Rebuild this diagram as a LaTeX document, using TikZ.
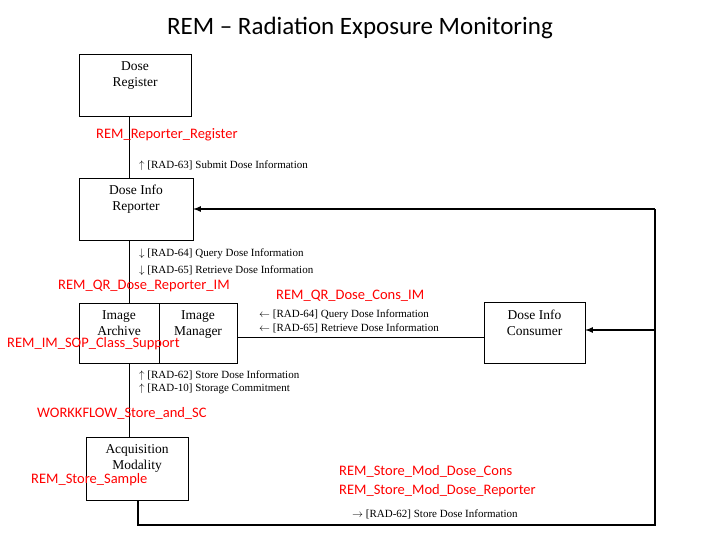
\documentclass[tikz,border=0pt]{standalone}
\usepackage{fontspec}
\setmainfont{Liberation Serif}
\newfontfamily\calibri{Carlito}
\usetikzlibrary{positioning}
\tikzset{
  actor/.style={draw, thin, inner sep=0pt, align=center, font=\fontsize{13.5}{16}\selectfont},
  trans/.style={anchor=west, inner sep=0pt, font=\fontsize{11}{12}\selectfont},
  remlbl/.style={anchor=west, inner sep=0pt, text=red, font=\calibri\fontsize{14.5}{16}\selectfont},
  loop/.style={line width=1.6pt}
}
\begin{document}
\begin{tikzpicture}[x=1pt, y=-1pt]
\useasboundingbox (0,0) rectangle (720,540);

% ======================================
% TITLE
% ======================================
\node[font=\calibri\fontsize{25}{28}\selectfont] (title) at (360,28) {REM \textendash{} Radiation Exposure Monitoring};

% ======================================
% ACTORS
% ======================================
\node[actor, minimum width=112pt, minimum height=62pt, text depth=22pt] (reg) at (135,85) {Dose\\Register};
\node[actor, minimum width=114pt, minimum height=62pt, text depth=22pt] (rep) at (136,209) {Dose Info\\Reporter};
\node[actor, minimum width=80pt, minimum height=60pt, text depth=20pt] (arch) at (119,333) {Image\\Archive};
\node[actor, minimum width=78pt, minimum height=60pt, text depth=20pt] (mgr) at (198,333) {Image\\Manager};
\node[actor, minimum width=101pt, minimum height=61pt, text depth=20pt] (cons) at (534.5,332.5) {Dose Info\\Consumer};
\node[actor, minimum width=102pt, minimum height=63pt, text depth=22pt] (acq) at (137,468.5) {Acquisition\\Modality};

% ======================================
% THIN CONNECTORS
% ======================================
\draw (reg.south -| 129,0) -- (rep.north -| 129,0);
\draw (rep.south -| 129,0) -- (arch.north -| 129,0);
\draw (arch.south -| 129,0) -- (acq.north -| 129,0);
\draw (mgr.east) ++(0,4) coordinate (m1) -- (cons.west |- m1);

% ======================================
% THICK LOOP BACK
% ======================================
\coordinate (c1) at (655,525);
\coordinate (c2) at (655,209);
\draw[loop] (acq.south -| 138,0) |- (c1) -- (c2);
\draw[loop, -latex] (c2) -- (rep.east);
\draw[loop, -latex] (655,330) -- (cons.east |- 0,330);

% ======================================
% TRANSACTIONS
% ======================================
\node[trans] (t63) at (139,166) {$\uparrow$ [RAD-63] Submit Dose Information};
\node[trans] (t64a) at (139,254) {$\downarrow$ [RAD-64] Query Dose Information};
\node[trans] (t65a) at (139,271) {$\downarrow$ [RAD-65] Retrieve Dose Information};
\node[trans] (t64b) at (259,315) {$\leftarrow$ [RAD-64] Query Dose Information};
\node[trans] (t65b) at (259,328) {$\leftarrow$ [RAD-65] Retrieve Dose Information};
\node[trans] (t62a) at (139,376) {$\uparrow$ [RAD-62] Store Dose Information};
\node[trans] (t10) at (139,389) {$\uparrow$ [RAD-10] Storage Commitment};
\node[trans] (t62b) at (352,514) {$\rightarrow$ [RAD-62] Store Dose Information};

% ======================================
% RED TEST LABELS
% ======================================
\node[remlbl] (l1) at (96,135) {REM\_Reporter\_Register};
\node[remlbl] (l2) at (58,286) {REM\_QR\_Dose\_Reporter\_IM};
\node[remlbl] (l3) at (276,296) {REM\_QR\_Dose\_Cons\_IM};
\node[remlbl] (l4) at (7,344) {REM\_IM\_SOP\_Class\_Support};
\node[remlbl] (l5) at (37,413) {WORKKFLOW\_Store\_and\_SC};
\node[remlbl] (l6) at (31,480) {REM\_Store\_Sample};
\node[remlbl] (l7) at (339,471) {REM\_Store\_Mod\_Dose\_Cons};
\node[remlbl] (l8) at (339,491) {REM\_Store\_Mod\_Dose\_Reporter};

\end{tikzpicture}
\end{document}
